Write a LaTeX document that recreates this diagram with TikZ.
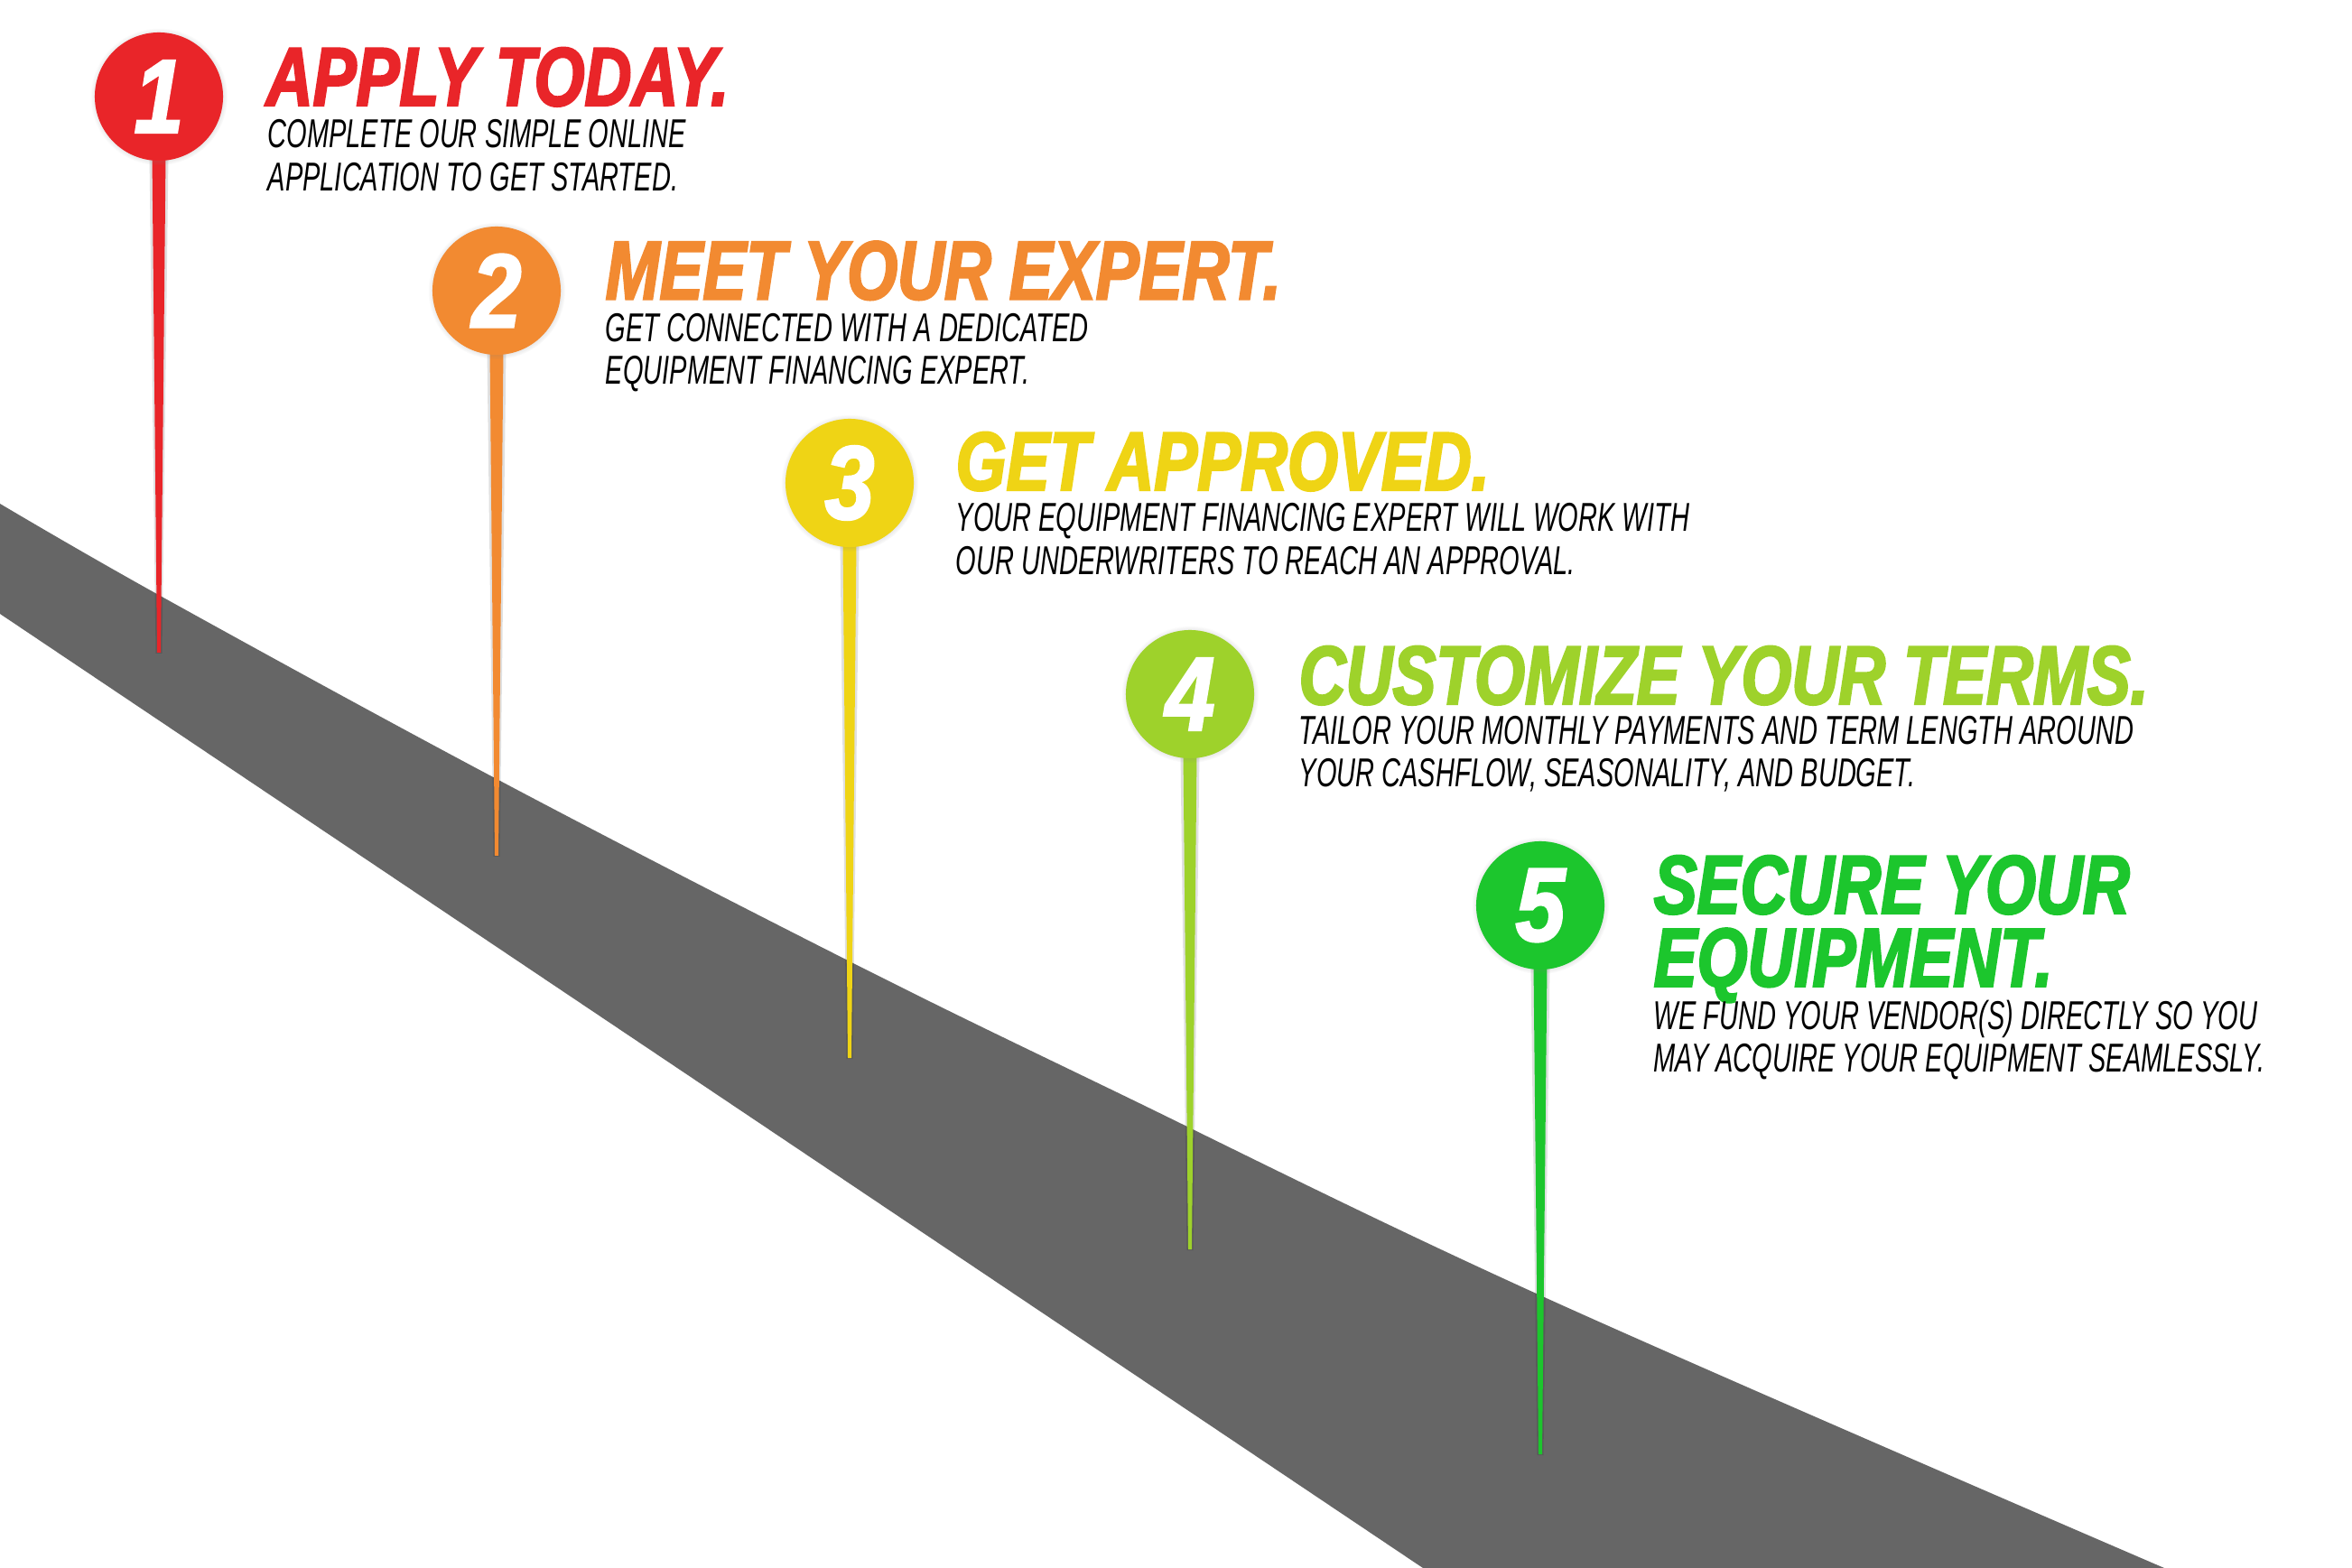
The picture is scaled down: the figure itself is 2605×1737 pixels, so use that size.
\documentclass[tikz,border=0pt]{standalone}
\usepackage{fontspec}
\usetikzlibrary{shadows,calc,backgrounds}
\newfontfamily\ttlfont[FakeStretch=0.78,BoldItalicFeatures={FakeBold=2.5}]{Liberation Sans}
\newfontfamily\bdyfont[FakeStretch=0.65]{Liberation Sans}
\newfontfamily\numfont[FakeStretch=0.85,BoldItalicFeatures={FakeBold=2}]{Liberation Sans}
\definecolor{cRed}{HTML}{E92529}
\definecolor{cOrange}{HTML}{F28A31}
\definecolor{cYellow}{HTML}{EFD415}
\definecolor{cLime}{HTML}{9ED22B}
\definecolor{cGreen}{HTML}{1CC62D}
\definecolor{roadgrey}{HTML}{666666}
\tikzset{
  stepdot/.style={circle, fill=#1, minimum size=1.42cm, inner sep=0pt, text=white,
    font=\numfont\fontsize{33}{33}\selectfont\bfseries\itshape,
    circular drop shadow={shadow xshift=0pt, shadow yshift=0pt, shadow scale=1.07, opacity=0.35}},
  ttl/.style={anchor=base west, inner sep=0pt, text=#1, text height=19pt, text depth=0pt,
    font=\ttlfont\fontsize{26.2}{28}\selectfont\bfseries\itshape},
  bdy/.style={anchor=base west, inner sep=0pt, text=black, text height=9.2pt, text depth=1.5pt,
    font=\bdyfont\fontsize{12.7}{14}\selectfont\itshape},
  roadfill/.style={fill=roadgrey},
  stemshade/.style={fill=black, opacity=0.12},
}
\begin{document}
\begin{tikzpicture}[x=0.01cm, y=-0.01cm]
\useasboundingbox (0,0) rectangle (2605,1737);

% circles
\node[stepdot=cRed]    (c1) at (176,107)  {1};
\node[stepdot=cOrange] (c2) at (550,322)  {2};
\node[stepdot=cYellow] (c3) at (941,535)  {3};
\node[stepdot=cLime]   (c4) at (1318,769) {4};
\node[stepdot=cGreen]  (c5) at (1706,1003) {5};

% stem ends
\coordinate (e1) at (176,723);
\coordinate (e2) at (550,948);
\coordinate (e3) at (941,1172);
\coordinate (e4) at (1318,1384);
\coordinate (e5) at (1706,1611);

\begin{scope}[on background layer]
  \fill[white] (0,0) rectangle (2605,1737);
  \fill[roadfill] plot[smooth, tension=0.6] coordinates {(0,558) (181,662) (552,864) (943,1066) (1237,1210) (1706,1435) (2397,1737)}
     -- (1576,1737) -- (0,680) -- cycle;
  \foreach \i/\c in {1/cRed,2/cOrange,3/cYellow,4/cLime,5/cGreen}{
    \fill[stemshade] ($(c\i.south)+(-10.5,-6)$) -- ($(e\i)+(-3.5,1)$) -- ($(e\i)+(3.5,1)$) -- ($(c\i.south)+(10.5,-6)$) -- cycle;
    \fill[\c] ($(c\i.south)+(-7.5,-6)$) -- ($(e\i)+(-2,0)$) -- ($(e\i)+(2,0)$) -- ($(c\i.south)+(7.5,-6)$) -- cycle;
  }
\end{scope}

% titles
\node[ttl=cRed]    (t1) at (294,117)   {APPLY TODAY.};
\node[ttl=cOrange] (t2) at (670,331.5) {MEET YOUR EXPERT.};
\node[ttl=cYellow] (t3) at (1058,543)  {GET APPROVED.};
\node[ttl=cLime]   (t4) at (1438,780)  {CUSTOMIZE YOUR TERMS.};
\node[ttl=cGreen]  (t5a) at (1831,1012) {SECURE YOUR};
\node[ttl=cGreen]  (t5b) at (1831,1092.6) {EQUIPMENT.};

% body text
\node[bdy] (b1a) at (296,164) {COMPLETE OUR SIMPLE ONLINE};
\node[bdy] (b1b) at (296,212) {APPLICATION TO GET STARTED.};
\node[bdy] (b2a) at (670,379) {GET CONNECTED WITH A DEDICATED};
\node[bdy] (b2b) at (670,426) {EQUIPMENT FINANCING EXPERT.};
\node[bdy] (b3a) at (1058,589) {YOUR EQUIPMENT FINANCING EXPERT WILL WORK WITH};
\node[bdy] (b3b) at (1058,637) {OUR UNDERWRITERS TO REACH AN APPROVAL.};
\node[bdy] (b4a) at (1438,825) {TAILOR YOUR MONTHLY PAYMENTS AND TERM LENGTH AROUND};
\node[bdy] (b4b) at (1438,872) {YOUR CASHFLOW, SEASONALITY, AND BUDGET.};
\node[bdy] (b5a) at (1831,1140) {WE FUND YOUR VENDOR(S) DIRECTLY SO YOU};
\node[bdy] (b5b) at (1831,1187) {MAY ACQUIRE YOUR EQUIPMENT SEAMLESSLY.};
\end{tikzpicture}
\end{document}
